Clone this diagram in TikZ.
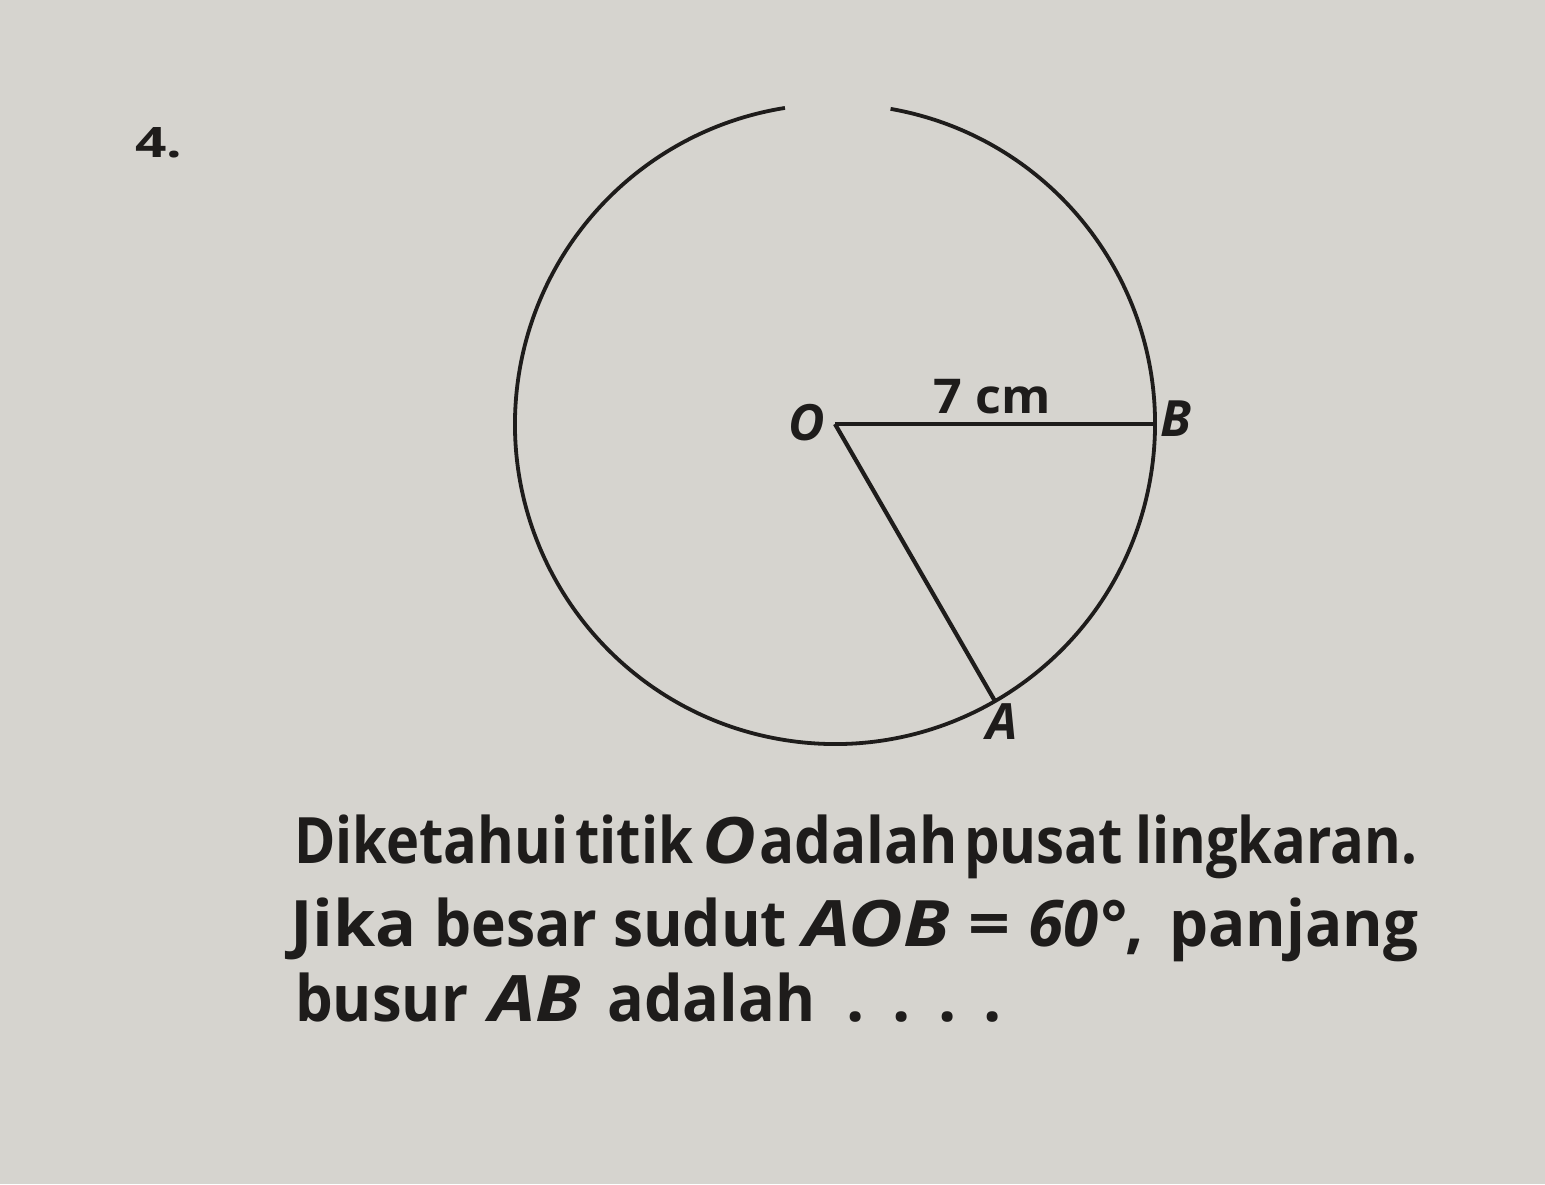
\documentclass[tikz,border=0pt]{standalone}
\usepackage{fontspec}
\setmainfont{Open Sans}
\usetikzlibrary{calc}
\definecolor{paper}{RGB}{214,212,207}
\definecolor{ink}{RGB}{30,28,27}
\newcommand\fitw[2]{\resizebox{#1pt}{\height}{#2}}
\begin{document}
\begin{tikzpicture}[x=1pt,y=-1pt,
  lbl/.style={font=\bfseries\itshape\fontsize{50}{50}\selectfont, text=ink, inner sep=0pt},
  wd/.style={font=\bfseries\fontsize{64}{64}\selectfont, text=ink, inner sep=0pt, anchor=base west},
  dot/.style={font=\bfseries\fontsize{64}{64}\selectfont, text=ink, inner sep=0pt, anchor=base},
  edge/.style={draw=ink, line width=4.2pt}]
\fill[paper] (0,0) rectangle (1545,1184);
\useasboundingbox (0,0) rectangle (1545,1184);
\coordinate (O) at (835,424);
\coordinate (B) at ($(O)+(0:320)$);
\coordinate (A) at ($(O)+(60:320)$);
% circle with a gap at the top
\draw[edge, line width=3.8pt] ($(O)+(-80:320)$) arc[start angle=-80, end angle=261, radius=320];
\draw[edge] (O) -- (B);
\draw[edge] (O) -- (A);
\node[lbl] (lO) at (807,423) {O};
\node[lbl] (lB) at (1176,419) {B};
\node[lbl] (lA) at (1002,722) {A};
\node[font=\bfseries\fontsize{48}{48}\selectfont, text=ink, inner sep=0pt, anchor=base] (lr) at (992,413) {\fitw{117}{7 cm}};
\node[font=\bfseries\fontsize{42}{42}\selectfont, text=ink, inner sep=0pt, anchor=base west] (num) at (135,157) {\fitw{47}{4.}};
% line 1
\node[wd] (w11) at (294,863) {\fitw{274}{Diketahui}};
\node[wd] (w12) at (575,863) {\fitw{118}{titik}};
\node[wd] (w13) at (702,863) {\fitw{54}{\itshape O}};
\node[wd] (w14) at (759,863) {\fitw{199}{adalah}};
\node[wd] (w15) at (964,863) {\fitw{159}{pusat}};
\node[wd] (w16) at (1135,863) {\fitw{282}{lingkaran.}};
% line 2
\node[wd] (w21) at (290,946) {\fitw{127}{Jika}};
\node[wd] (w22) at (434,946) {\fitw{163}{besar}};
\node[wd] (w23) at (613,946) {\fitw{174}{sudut}};
\node[wd] (w24) at (803,946) {\fitw{147}{\itshape AOB}};
\node[wd] (w25) at (968,946) {\fitw{42}{=}};
\node[wd] (w26) at (1028,946) {\fitw{116}{\itshape 60°\upshape,}};
\node[wd] (w27) at (1169,946) {\fitw{249}{panjang}};
% line 3
\node[wd] (w31) at (295,1021) {\fitw{173}{busur}};
\node[wd] (w32) at (489,1021) {\fitw{92}{\itshape AB}};
\node[wd] (w33) at (607,1021) {\fitw{208}{adalah}};
\node[dot] (d1) at (856,1021) {.};
\node[dot] (d2) at (902,1021) {.};
\node[dot] (d3) at (948,1021) {.};
\node[dot] (d4) at (993,1021) {.};
\end{tikzpicture}
\end{document}
